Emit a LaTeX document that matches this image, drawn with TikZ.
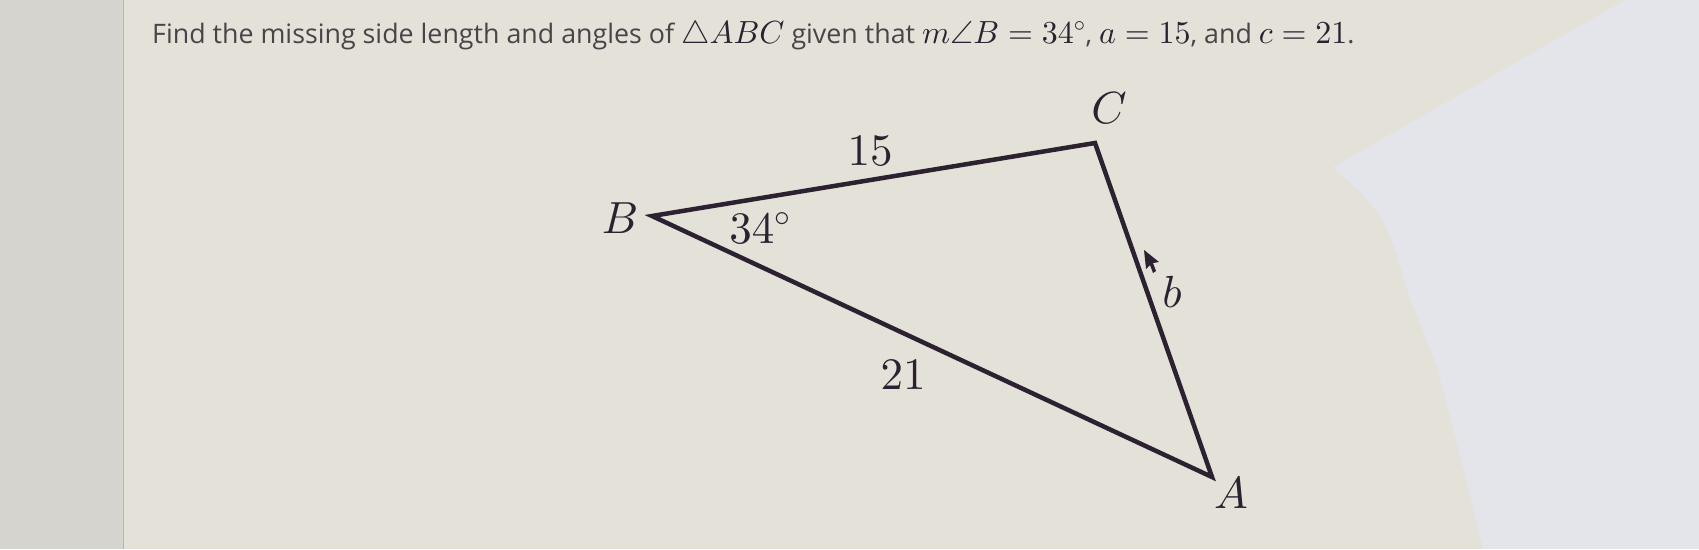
\documentclass[tikz,border=0pt]{standalone}
\usepackage{amsmath, amssymb}
\usepackage{fontspec}
\newfontfamily\titlefont{Open Sans}
% scalable math fonts for large labels
\DeclareFontShape{OML}{cmm}{m}{it}{<->cmmi10}{}
\DeclareFontShape{OMS}{cmsy}{m}{n}{<->cmsy10}{}
\DeclareFontShape{OT1}{cmr}{m}{n}{<->cmr10}{}
\DeclareFontShape{OMX}{cmex}{m}{n}{<->cmex10}{}
\DeclareFontFamily{U}{msa}{}
\DeclareFontShape{U}{msa}{m}{n}{<->msam10}{}
\definecolor{paper}{RGB}{228,225,216}
\definecolor{bezel}{RGB}{214,212,206}
\definecolor{glare}{RGB}{227,229,235}
\definecolor{ink}{RGB}{43,33,48}
\definecolor{titlegray}{RGB}{72,68,72}
\newcommand{\qmath}[1]{{\fontsize{32}{38}\selectfont\color{ink}$#1$}}
\tikzset{
	vlabel/.style={inner sep=0pt, text=ink, font=\fontsize{45}{54}\selectfont},
	side/.style={draw=ink, line width=4.5pt, line join=miter}
}

\begin{document}
\begin{tikzpicture}[x=1pt, y=-1pt]
		\useasboundingbox (0,0) rectangle (1699,549);
		% screen background
		\fill[paper] (0,0) rectangle (1699,549);
		\fill[bezel] (0,0) rectangle (123,549);
		\draw[bezel!85!black, line width=1pt] (123,0) -- (123,549);
		\fill[glare] (1625,0) -- (1333,167) .. controls (1385,215) .. (1407,290)
			-- (1437,367) -- (1467,483) -- (1483,549) -- (1699,549) -- (1699,0) -- cycle;
		% question
		\node[anchor=base west, inner sep=0pt, text=titlegray,
			font=\titlefont\fontsize{26.8}{32}\selectfont] (question) at (152,43)
			{Find the missing side length and angles of \qmath{\triangle ABC} given that
			\qmath{m\angle B = 34^\circ}, \qmath{a = 15}, and \qmath{c = 21}.};
		% triangle
		\coordinate (B) at (652,216);
		\coordinate (C) at (1095,143);
		\coordinate (A) at (1212,477);
		\draw[side] (B) -- (C) -- (A) -- cycle;
		\foreach \p/\x/\y/\t in {vB/620/218/B, vC/1109/108/C, vA/1231/493/A,
			sa/870/151/15, sc/903/375/21, sb/1172/292/b}
			{
				\node[vlabel] (\p) at (\x,\y) {$\t$};
			}
		\node[vlabel] (angB) at (760,228) {$34^\circ$};
		% mouse pointer
		\fill[ink] (1144,250) -- (1146,269) -- (1150,265) -- (1153,273)
			-- (1156,271) -- (1153,263) -- (1159,262) -- cycle;
	\end{tikzpicture}
\end{document}
